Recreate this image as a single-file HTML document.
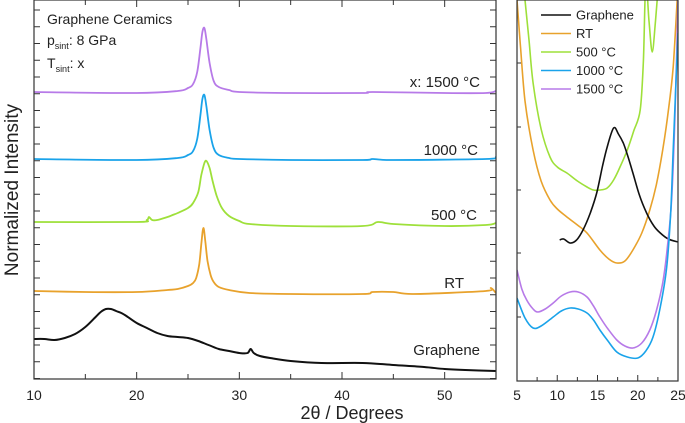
<!DOCTYPE html>
<html><head><meta charset="utf-8"><style>
body{margin:0;background:#fff}
svg{display:block;font-family:"Liberation Sans",sans-serif}
</style></head><body>
<svg id="c" width="685" height="423" viewBox="0 0 685 423">
<g id="main"></g>
<g id="inset"></g>
<g font-size="14" fill="#222">
<text x="47" y="24">Graphene Ceramics</text>
<text x="47" y="45">p<tspan font-size="9" dy="4">sint</tspan><tspan dy="-4">: 8 GPa</tspan></text>
<text x="47" y="68">T<tspan font-size="9" dy="4">sint</tspan><tspan dy="-4">: x</tspan></text>
</g>
<g font-size="15" fill="#222" text-anchor="end">
<text x="480" y="87">x:  1500 °C</text>
<text x="478" y="155">1000 °C</text>
<text x="477" y="220">500 °C</text>
<text x="464" y="288">RT</text>
<text x="480" y="355">Graphene</text>
</g>
<text transform="translate(18,190) rotate(-90)" text-anchor="middle" font-size="19" fill="#222">Normalized Intensity</text>
<text x="352" y="419" text-anchor="middle" font-size="18" fill="#222">2θ / Degrees</text>
</svg>
<script>
// main plot data (x = 2theta, values = relative intensity)
const gX=[10,11,12,13,14,15,16,16.5,17,17.5,18,18.5,19,20,21,22,23,24,25,26,27,28,29,30,30.8,31.1,31.4,32,33,35,38,42,45,48,50,52,55];
const gY=[40,40,39,41,45,52,62,67,70,70,68,66,63,56,51,46,43,42,41,38,34,30,28,26,26,30,26,23,21,18,16,16,14,12,10,9,8];
const rtX=[10,15,20,23,24,25,25.5,25.8,26.1,26.3,26.5,26.7,26.9,27.2,27.5,28,29,31,35,42,43,45,47,54,54.5,55];
const rtY=[88,87,87,89,90,93,96,101,115,135,151,136,118,104,97,92,89,86,85,85,87,87,85,88,91,86];
const g5X=[10,20,21,21.2,21.5,22,23,23.5,24,25,25.5,26,26.3,26.6,26.8,27.1,27.4,27.8,28.3,29,30,31,35,42,43.5,45,50,54,55];
const g5Y=[157,157,159,162,159,159,162,164,166,171,176,187,204,216,218,211,198,183,171,163,158,155,153,153,157,155,153,154,156];
const bX=[10,20,24,25,25.5,25.9,26.2,26.4,26.6,26.8,27.1,27.5,28,29,30,35,42,43,45,54,55];
const bY=[220,219,221,224,228,240,263,280,284,272,249,231,224,221,220,219,219,220,219,220,222];
const pX=[10,20,24,25,25.5,25.9,26.2,26.4,26.6,26.8,27.1,27.5,28,29,30,35,42,43,50,54,55];
const pY=[287,286,288,291,295,307,330,347,351,339,316,298,292,289,287,286,286,287,286,286,288];
const mainTicksX=[10,20,30,40,50];
// inset data
const iGX=[10.3,10.8,11.6,12.4,13.2,14.1,14.9,15.6,16.2,17,17.6,18.2,18.8,19.4,20.2,21.1,22,22.8,23.8,25];
const iGY=[141,142,138,141,151,168,188,214,234,253,247,238,224,208,186,168,155,148,142,139];
const iRX=[5,5.4,6,7,8,9.1,10,11.2,12.5,13.7,15.3,16.4,17.4,18.4,19.4,20.5,21.5,22.3,23.1,23.8,24.4,24.9];
const iRY=[381,338,280,231,200,181,172,164,156,148,131,122,118,120,131,148,171,196,231,270,314,381];
const iG5X=[6,6.5,7,8,9.1,10,11.2,12.5,13.7,14.5,15.3,16.2,17,17.8,18.7,19.5,20.3,20.7,21.0,21.4,21.8,22.2,22.6];
const iG5Y=[381,340,298,252,224,214,208,200,194,191,191,193,201,214,231,250,271,320,400,360,329,360,400];
const iBX=[5,6,7,8,9.5,10.5,11.6,12.6,13.7,14.5,15.3,16.3,17.4,18.7,20,21,21.9,22.8,23.6,24.1,24.4,24.7,25];
const iBY=[83,63,53,55,64,70,73,72,68,61,51,40,29,24,23,30,44,74,114,170,231,290,348];
const iPX=[5,5.6,6.2,7,7.6,8.5,9.5,10.5,11.6,12.6,13.7,14.5,15.3,16.3,17.4,18.4,19.4,20.5,21.5,22.3,23.1,23.7,24.2,24.6,25];
const iPY=[111,92,81,72,69,72,78,85,89,89,84,75,64,52,41,35,33,38,51,70,98,135,181,260,381];
const insetTicksX=[5,10,15,20,25];

const NS="http://www.w3.org/2000/svg";
function mk(t,a,p){const e=document.createElementNS(NS,t);for(const k in a)e.setAttribute(k,a[k]);p.appendChild(e);return e;}
function smooth(pts){
 let d='M'+pts[0][0].toFixed(1)+','+pts[0][1].toFixed(1);
 for(let i=0;i<pts.length-1;i++){
  const p0=pts[i-1]||pts[i],p1=pts[i],p2=pts[i+1],p3=pts[i+2]||p2;
  const c1=[p1[0]+(p2[0]-p0[0])/6,p1[1]+(p2[1]-p0[1])/6];
  const c2=[p2[0]-(p3[0]-p1[0])/6,p2[1]-(p3[1]-p1[1])/6];
  d+='C'+c1[0].toFixed(1)+','+c1[1].toFixed(1)+' '+c2[0].toFixed(1)+','+c2[1].toFixed(1)+' '+p2[0].toFixed(1)+','+p2[1].toFixed(1);
 }
 return d;
}
const M={l:34,r:496,t:0,b:379,x0:10,x1:55};
const mx=v=>M.l+(v-M.x0)/(M.x1-M.x0)*(M.r-M.l);
const my=v=>M.b-v;
const main=document.getElementById('main');
function series(g,xs,ys,fx,fy,col,name,w){
 const p=mk('path',{d:smooth(xs.map((x,i)=>[fx(x),fy(ys[i])])),fill:'none',stroke:col,'stroke-width':w||1.8,'stroke-linejoin':'round'},g);
 
 
}
const clipM=mk('clipPath',{id:'cm'},main);mk('rect',{x:M.l,y:M.t,width:M.r-M.l,height:M.b-M.t},clipM);
const gm=mk('g',{'clip-path':'url(#cm)'},main);
series(gm,gX,gY,mx,my,'#111','graphene-line',2);
series(gm,rtX,rtY,mx,my,'#e8a22c','rt-line');
series(gm,g5X,g5Y,mx,my,'#9ee03a','500c-line');
series(gm,bX,bY,mx,my,'#1aa3ea','1000c-line');
series(gm,pX,pY,mx,my,'#b77ae8','1500c-line');
const fr=mk('rect',{x:M.l,y:M.t,width:M.r-M.l,height:M.b-M.t,fill:'none',stroke:'#333','stroke-width':1.2},main);


for(let v=10;v<=55;v+=5){const x=mx(v),L=v%10==0?7:5;
 mk('line',{x1:x,y1:M.b,x2:x,y2:M.b-L,stroke:'#333'},main);
 mk('line',{x1:x,y1:M.t,x2:x,y2:M.t+L,stroke:'#333'},main);}
for(let y=10;y<M.b;y+=16.75){mk('line',{x1:M.l,y1:y,x2:M.l+6,y2:y,stroke:'#333'},main);mk('line',{x1:M.r,y1:y,x2:M.r-6,y2:y,stroke:'#333'},main);}
mainTicksX.forEach(v=>{const t=mk('text',{x:mx(v),y:400,'text-anchor':'middle','font-size':14,fill:'#222'},main);t.textContent=v;
 
 });
const I={l:517,r:678,t:0,b:381,x0:5,x1:25};
const ix=v=>I.l+(v-I.x0)/(I.x1-I.x0)*(I.r-I.l);
const iy=v=>I.b-v;
const inset=document.getElementById('inset');
const clipI=mk('clipPath',{id:'ci'},inset);mk('rect',{x:I.l,y:I.t,width:I.r-I.l,height:I.b-I.t},clipI);
const gi=mk('g',{'clip-path':'url(#ci)'},inset);
series(gi,iG5X,iG5Y,ix,iy,'#9ee03a','inset-500c-line',1.6);
series(gi,iRX,iRY,ix,iy,'#e8a22c','inset-rt-line',1.6);
series(gi,iGX,iGY,ix,iy,'#111','inset-graphene-line',1.6);
series(gi,iPX,iPY,ix,iy,'#b77ae8','inset-1500c-line',1.6);
series(gi,iBX,iBY,ix,iy,'#1aa3ea','inset-1000c-line',1.6);
const fi=mk('rect',{x:I.l,y:I.t,width:I.r-I.l,height:I.b-I.t,fill:'none',stroke:'#333','stroke-width':1.2},inset);


for(let v=5;v<=25;v+=2.5){const x=ix(v),L=v%5==0?6:4;mk('line',{x1:x,y1:I.b,x2:x,y2:I.b-L,stroke:'#333'},inset);}
[63,127,190,253,317].forEach(y=>mk('line',{x1:I.l,y1:y,x2:I.l+4,y2:y,stroke:'#333'},inset));
insetTicksX.forEach(v=>{const t=mk('text',{x:ix(v),y:400,'text-anchor':'middle','font-size':14,fill:'#222'},inset);t.textContent=v;
 
 });
const leg=[['Graphene','#111'],['RT','#e8a22c'],['500 °C','#9ee03a'],['1000 °C','#1aa3ea'],['1500 °C','#b77ae8']];
const lg=mk('g',{},inset);


leg.forEach((e,i)=>{const y=15+i*18.5;
 mk('line',{x1:541,y1:y,x2:571,y2:y,stroke:e[1],'stroke-width':1.5},lg);
 const t=mk('text',{x:576,y:y+4.5,'font-size':13,fill:'#222'},lg);t.textContent=e[0];
 
 });
</script>
</body></html>
